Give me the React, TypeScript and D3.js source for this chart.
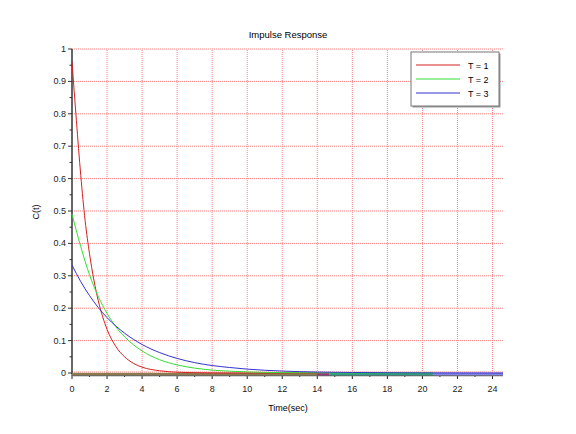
import * as d3 from "d3";

// sample times (sec) and impulse response values
const timesT1 = [0, 0.25, 0.5, 0.75, 1, 1.25, 1.5, 2, 2.5, 3, 3.5, 4, 5, 6, 7, 8, 10, 12, 14];
const valuesT1 = [0.96, 0.78, 0.61, 0.47, 0.368, 0.287, 0.223, 0.135, 0.082, 0.05, 0.03, 0.018, 0.007, 0.0025, 0.001, 0.0003, 0, 0, 0];

const timesT2 = [0, 0.5, 1, 1.5, 2, 2.5, 3, 4, 5, 6, 7, 8, 9, 10, 12, 14, 16, 18, 20.6];
const valuesT2 = [0.49, 0.39, 0.303, 0.236, 0.184, 0.143, 0.112, 0.068, 0.041, 0.025, 0.015, 0.009, 0.0056, 0.0034, 0.0012, 0.0005, 0.0002, 0.0001, 0];

const timesT3 = [0, 0.5, 1, 1.5, 2, 3, 4, 5, 6, 7, 8, 9, 10, 12, 14, 16, 18, 20, 22, 24.6];
const valuesT3 = [0.333, 0.282, 0.239, 0.202, 0.171, 0.123, 0.088, 0.063, 0.045, 0.032, 0.023, 0.017, 0.012, 0.006, 0.003, 0.0016, 0.0008, 0.0004, 0.0002, 0];

const seriesNames = ["T = 1", "T = 2", "T = 3"];
const seriesColors = ["#d42020", "#33dd33", "#3333cc"];

const xTicks = d3.range(0, 25, 2);
const yTicks = d3.range(0, 11).map((i) => i / 10);

// coloured band where the curves lie along the axis
const axisBand = [
  { from: 0, to: 14, color: "#8c7b50" },
  { from: 14, to: 14.7, color: "#a03080" },
  { from: 14.7, to: 20.6, color: "#2f9a86" },
  { from: 20.6, to: 24.6, color: "#8585e6" },
];

const App = () => {
  const width = 576;
  const height = 434;
  const x = d3.scaleLinear().domain([0, 24.6]).range([72, 503]);
  const y = d3.scaleLinear().domain([0, 1]).range([373, 49]);

  const series = [
    { t: timesT1, v: valuesT1 },
    { t: timesT2, v: valuesT2 },
    { t: timesT3, v: valuesT3 },
  ];

  const line = d3
    .line<[number, number]>()
    .x((d) => x(d[0]))
    .y((d) => y(d[1]))
    .curve(d3.curveMonotoneX);

  const minorX = d3.range(1, 25, 2);
  const minorY = d3.range(0, 10).map((i) => i / 10 + 0.05);
  const font = "'Liberation Sans', Arial, sans-serif";
  const gridColor = "#ff8080";

  const lx = 411;
  const ly = 52;

  return (
    <svg
      width={width}
      height={height}
      style={{ position: "absolute", left: 0, top: 0, background: "#fff" }}
      fontFamily={font}
    >
      <text x={288} y={38} textAnchor="middle" fontSize={9.5} fill="#000">
        Impulse Response
      </text>

      {/* grid */}
      {xTicks.slice(1).map((t) => (
        <line
          key={"gx" + t}
          x1={x(t)}
          x2={x(t)}
          y1={y(0)}
          y2={y(1)}
          stroke={gridColor}
          strokeWidth={1}
          strokeDasharray="1,1"
        />
      ))}
      {yTicks.map((v) => (
        <line
          key={"gy" + v}
          x1={x(0)}
          x2={x(24.6)}
          y1={y(v) - (v === 0 ? 1 : 0)}
          y2={y(v) - (v === 0 ? 1 : 0)}
          stroke={gridColor}
          strokeWidth={1}
          strokeDasharray="1,1"
        />
      ))}

      {/* y axis */}
      <line x1={x(0)} x2={x(0)} y1={y(0) + 1} y2={y(1)} stroke="#333" strokeWidth={1.5} />
      {yTicks.map((v) => (
        <g key={"yt" + v}>
          <line x1={x(0) - 4} x2={x(0)} y1={y(v)} y2={y(v)} stroke="#333" />
          <text x={x(0) - 6} y={y(v) + 3} textAnchor="end" fontSize={9} fill="#222">
            {v === 0 || v === 1 ? String(v) : v.toFixed(1)}
          </text>
        </g>
      ))}
      {minorY.map((v) => (
        <line key={"ym" + v} x1={x(0) - 2.5} x2={x(0)} y1={y(v)} y2={y(v)} stroke="#333" />
      ))}
      <text
        transform={`translate(39,212) rotate(-90)`}
        textAnchor="middle"
        fontSize={9}
        fill="#000"
      >
        C(t)
      </text>

      {/* x axis */}
      {xTicks.map((t) => (
        <g key={"xt" + t}>
          <line x1={x(t)} x2={x(t)} y1={y(0)} y2={y(0) + 6} stroke="#222" />
          <text x={x(t)} y={y(0) + 19} textAnchor="middle" fontSize={9} fill="#222">
            {t}
          </text>
        </g>
      ))}
      {minorX.map((t) => (
        <line key={"xm" + t} x1={x(t)} x2={x(t)} y1={y(0)} y2={y(0) + 4} stroke="#222" />
      ))}
      <line x1={x(0)} x2={x(24.6)} y1={y(0) + 2.5} y2={y(0) + 2.5} stroke="#666" strokeWidth={1.5} />
      {axisBand.map((b) => (
        <line
          key={"band" + b.from}
          x1={x(b.from)}
          x2={x(b.to)}
          y1={y(0) + 1}
          y2={y(0) + 1}
          stroke={b.color}
          strokeWidth={2.5}
        />
      ))}
      <text x={288} y={411} textAnchor="middle" fontSize={9} fill="#000">
        Time(sec)
      </text>

      {/* curves */}
      {series.map((s, i) => (
        <path
          key={"s" + i}
          d={line(s.t.map((t, j) => [t, s.v[j]] as [number, number])) ?? ""}
          fill="none"
          stroke={seriesColors[i]}
          strokeWidth={1}
        />
      ))}

      {/* legend */}
      <rect x={lx + 1.5} y={ly + 1.5} width={88} height={54} fill="#999" />
      <rect x={lx} y={ly} width={88} height={54} fill="#fff" stroke="#777" strokeWidth={1} />
      {seriesNames.map((name, i) => (
        <g key={"lg" + i}>
          <line
            x1={lx + 5}
            x2={lx + 49}
            y1={ly + 13 + i * 14}
            y2={ly + 13 + i * 14}
            stroke={seriesColors[i]}
            strokeWidth={1}
          />
          <text x={lx + 57} y={ly + 16.5 + i * 14} fontSize={9} fill="#000">
            {name}
          </text>
        </g>
      ))}
    </svg>
  );
};

export default App;
